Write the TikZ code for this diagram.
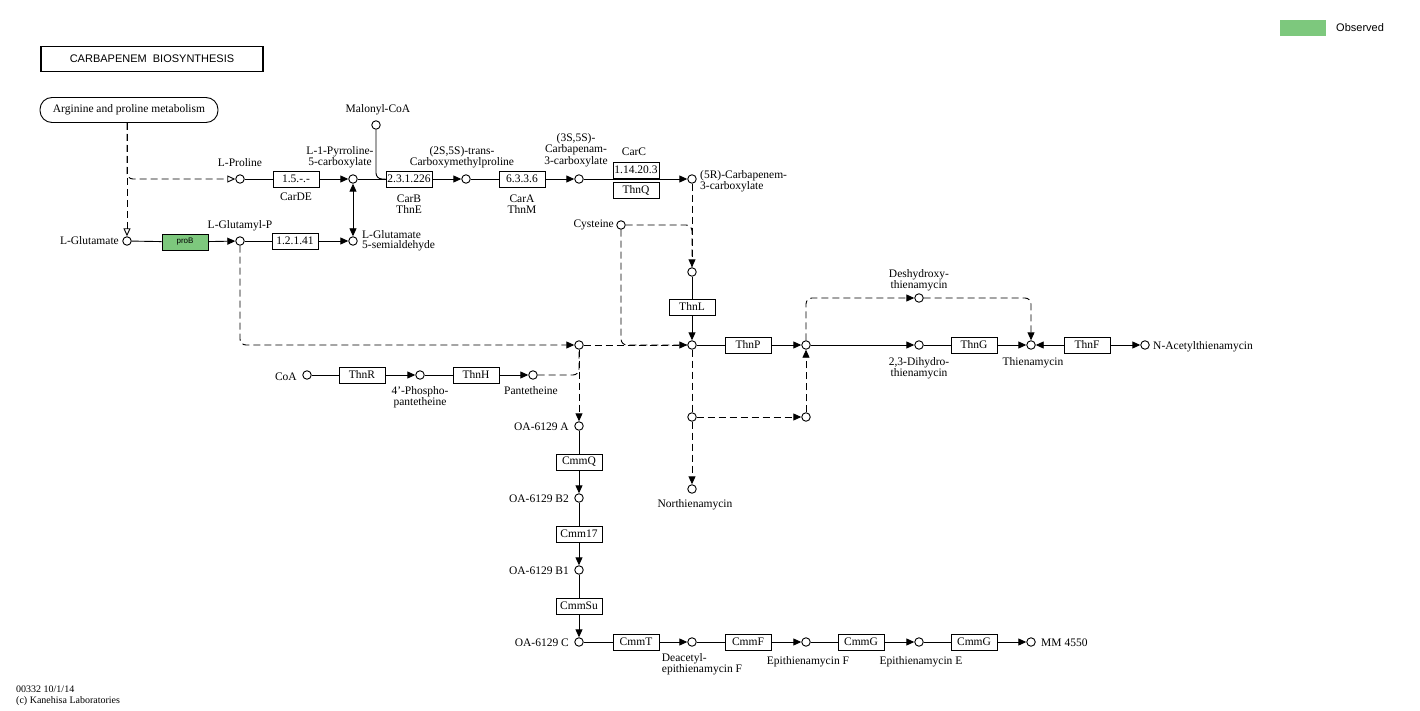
\documentclass[tikz,border=0pt]{standalone}
\usepackage{fontspec}
\setmainfont{Liberation Serif}
\setsansfont{Liberation Sans}
\usetikzlibrary{arrows.meta}
\definecolor{obs}{RGB}{125,200,125}
\begin{document}
\begin{tikzpicture}[x=1pt,y=-1pt,
  every node/.style={font=\fontsize{11.5}{10}\selectfont, inner sep=0pt},
  cpd/.style={circle,draw,line width=0.9pt,minimum size=8.5pt,fill=white},
  enz/.style={draw,line width=0.9pt,minimum width=46pt,minimum height=16pt,fill=white},
  lbl/.style={align=center},
  line/.style={line width=0.9pt},
  ar/.style={line,-{Triangle[length=8pt,width=7pt]}},
  ba/.style={line,{Triangle[length=8pt,width=7pt]}-{Triangle[length=8pt,width=7pt]}},
  dsh/.style={line,dash pattern=on 7pt off 4pt,rounded corners=6pt},
  dar/.style={dsh,-{Triangle[length=8pt,width=7pt]}},
  oar/.style={dsh,-{Triangle[open,length=8pt,width=7pt]}}]
\useasboundingbox (0,0) rectangle (1420,711);
\fill[white] (0,0) rectangle (1420,711);
% legend & title
\node[fill=obs, minimum width=46pt,minimum height=16pt] (leg) at (1303,28) {};
\node[font=\sffamily\fontsize{11}{10}\selectfont,anchor=west] (legt) at (1336,28) {Observed};
\node[draw,line width=1.4pt,minimum width=222pt,minimum height=25pt] (title) at (152,59) {\sffamily\fontsize{11}{10}\selectfont CARBAPENEM\ \ BIOSYNTHESIS};
\node[draw,line width=0.9pt,rounded corners=12pt,minimum width=178pt,minimum height=25pt] (arg) at (129,110) {Arginine and proline metabolism};
% compounds
\node[cpd] (pro) at (240,179) {}; \node[lbl] (lpro) at (240,163) {L-Proline};
\node[cpd] (p5c) at (353,179) {}; \node[lbl] (lp5c) at (340,157) {L-1-Pyrroline-\\5-carboxylate};
\node[cpd] (mal) at (376,125) {}; \node[lbl] (lmal) at (378,110) {Malonyl-CoA};
\node[cpd] (cmp) at (466,179) {}; \node[lbl] (lcmp) at (462,157) {(2S,5S)-trans-\\Carboxymethylproline};
\node[cpd] (cbp) at (579,179) {}; \node[lbl] (lcbp) at (576,150) {(3S,5S)-\\Carbapenam-\\3-carboxylate};
\node[cpd] (r5c) at (692,179) {}; \node[lbl,anchor=west,align=left] (lr5c) at (700,181) {(5R)-Carbapenem-\\3-carboxylate};
\node[cpd] (glu) at (127,241) {}; \node[anchor=east] (lglu) at (119,241) {L-Glutamate};
\node[cpd] (glp) at (240,241) {}; \node[lbl] (lglp) at (240,226) {L-Glutamyl-P};
\node[cpd] (gsa) at (353,241) {}; \node[lbl,anchor=west,align=left] (lgsa) at (362,241) {L-Glutamate\\5-semialdehyde};
\node[cpd] (cys) at (621,225) {}; \node[anchor=east] (lcys) at (614,225) {Cysteine};
\node[cpd] (c272) at (692,272) {};
\node[cpd] (j1) at (579,345) {};
\node[cpd] (j2) at (692,345) {};
\node[cpd] (j3) at (806,345) {};
\node[cpd] (j4) at (692,417) {};
\node[cpd] (j5) at (806,417) {};
\node[cpd] (nor) at (692,489) {}; \node[lbl] (lnor) at (695,505) {Northienamycin};
\node[cpd] (dht) at (919,345) {}; \node[lbl] (ldht) at (919,368) {2,3-Dihydro-\\thienamycin};
\node[cpd] (dsh) at (919,298) {}; \node[lbl] (ldsh) at (919,280) {Deshydroxy-\\thienamycin};
\node[cpd] (thn) at (1031,345) {}; \node[lbl] (lthn) at (1033,363) {Thienamycin};
\node[cpd] (nac) at (1145,345) {}; \node[anchor=west] (lnac) at (1153,347) {N-Acetylthienamycin};
\node[cpd] (coa) at (307,375) {}; \node[anchor=east] (lcoa) at (297,377) {CoA};
\node[cpd] (php) at (420,375) {}; \node[lbl] (lphp) at (420,397) {4'-Phospho-\\pantetheine};
\node[cpd] (pan) at (533,375) {}; \node[lbl] (lpan) at (531,391) {Pantetheine};
\node[cpd] (oaa) at (579,426) {}; \node[anchor=east] (loaa) at (569,427) {OA-6129 A};
\node[cpd] (ob2) at (579,498) {}; \node[anchor=east] (lob2) at (569,499) {OA-6129 B2};
\node[cpd] (ob1) at (579,570) {}; \node[anchor=east] (lob1) at (569,571) {OA-6129 B1};
\node[cpd] (oac) at (579,642) {}; \node[anchor=east] (loac) at (569,643) {OA-6129 C};
\node[cpd] (def) at (692,642) {}; \node[lbl,align=left] (ldef) at (702,664) {Deacetyl-\\epithienamycin F};
\node[cpd] (epf) at (806,642) {}; \node[lbl] (lepf) at (808,662) {Epithienamycin F};
\node[cpd] (epe) at (919,642) {}; \node[lbl] (lepe) at (921,662) {Epithienamycin E};
\node[cpd] (mm) at (1031,642) {}; \node[anchor=west] (lmm) at (1041,643) {MM 4550};
% enzymes
\node[enz] (e15) at (296,179) {1.5.-.-}; \node (cde) at (296,197) {CarDE};
\node[enz] (e23) at (409,179) {2.3.1.226}; \node[lbl] (cbe) at (409,204) {CarB\\[1pt]ThnE};
\node[enz] (e63) at (522,179) {6.3.3.6}; \node[lbl] (cam) at (522,204) {CarA\\[1pt]ThnM};
\node (carc) at (634,152) {CarC};
\node[enz] (e114) at (636,170) {1.14.20.3};
\node[enz] (thq) at (636,190) {ThnQ};
\node[enz,fill=obs,font=\sffamily\fontsize{8}{8}\selectfont] (prob) at (185,242) {proB};
\node[enz] (e121) at (295,241) {1.2.1.41};
\node[enz] (thl) at (692,307) {ThnL};
\node[enz] (thp) at (748,345) {ThnP};
\node[enz] (thg) at (974,345) {ThnG};
\node[enz] (thf) at (1087,345) {ThnF};
\node[enz] (thr) at (362,375) {ThnR};
\node[enz] (thh) at (476,375) {ThnH};
\node[enz] (cq) at (579,462) {CmmQ};
\node[enz] (c17) at (579,534) {Cmm17};
\node[enz] (csu) at (579,606) {CmmSu};
\node[enz] (ct) at (636,642) {CmmT};
\node[enz] (cf) at (748,642) {CmmF};
\node[enz] (cg1) at (861,642) {CmmG};
\node[enz] (cg2) at (974,642) {CmmG};
% footer
\node[anchor=west,align=left,font=\fontsize{10}{11}\selectfont] (foot) at (16,696) {00332 10/1/14\\(c) Kanehisa Laboratories};
% solid edges
\draw[line] (pro) -- (e15); \draw[ar] (e15) -- (p5c);
\draw[line] (p5c) -- (e23); \draw[ar] (e23) -- (cmp);
\draw[line,rounded corners=6pt] (mal) |- (e23.west);
\draw[line] (cmp) -- (e63); \draw[ar] (e63) -- (cbp);
\draw[ar] (cbp) -- (r5c);
\draw[line] (glu) -- (prob); \draw[ar] (prob) -- (glp);
\draw[line] (glp) -- (e121); \draw[ar] (e121) -- (gsa);
\draw[ba] (p5c) -- (gsa);
\draw[line] (c272) -- (thl); \draw[ar] (thl) -- (j2);
\draw[line] (j2) -- (thp); \draw[ar] (thp) -- (j3);
\draw[ar] (j3) -- (dht);
\draw[line] (dht) -- (thg); \draw[ar] (thg) -- (thn);
\draw[ar] (thf) -- (thn); \draw[ar] (thf) -- (nac);
\draw[line] (coa) -- (thr); \draw[ar] (thr) -- (php);
\draw[line] (php) -- (thh); \draw[ar] (thh) -- (pan);
\draw[line] (oaa) -- (cq); \draw[ar] (cq) -- (ob2);
\draw[line] (ob2) -- (c17); \draw[ar] (c17) -- (ob1);
\draw[line] (ob1) -- (csu); \draw[ar] (csu) -- (oac);
\draw[line] (oac) -- (ct); \draw[ar] (ct) -- (def);
\draw[line] (def) -- (cf); \draw[ar] (cf) -- (epf);
\draw[line] (epf) -- (cg1); \draw[ar] (cg1) -- (epe);
\draw[line] (epe) -- (cg2); \draw[ar] (cg2) -- (mm);
% dashed edges
\draw[oar] (glu |- arg.south) -- (glu);
\draw[oar] (glu |- arg.south) |- (pro);
\draw[dar] (glp) |- (j1);
\draw[dar] (j1) -- (j2);
\draw[dsh] (cys) |- (j2.west);
\draw[dar] (r5c) -- (c272);
\draw[dsh] (cys) -| (c272.north);
\draw[dsh] (pan) -| (j1.south);
\draw[dar] (j1) -- (oaa);
\draw[dsh] (j2) -- (j4);
\draw[dar] (j4) -- (nor);
\draw[dar] (j4) -- (j5);
\draw[dar] (j5) -- (j3);
\draw[dar] (j3) |- (dsh);
\draw[dar] (dsh) -| (thn);
\end{tikzpicture}
\end{document}
